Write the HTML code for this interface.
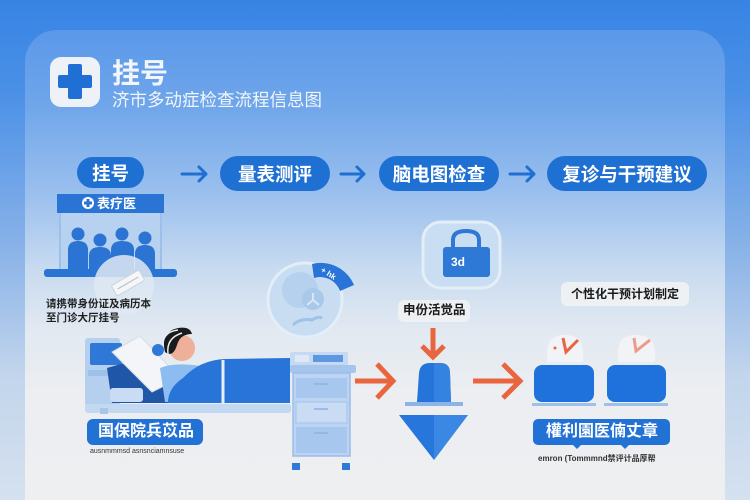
<!DOCTYPE html>
<html><head><meta charset="utf-8">
<style>
html,body{margin:0;padding:0;width:750px;height:500px;overflow:hidden;}
#w{position:relative;width:750px;height:500px;overflow:hidden;
background:linear-gradient(180deg,#3784e4 0%,#4a90e7 18%,#8ab3e8 50%,#c2d5ec 75%,#d5e1ef 100%);
font-family:"Liberation Sans","Noto Sans CJK SC",sans-serif;}
.card{position:absolute;left:25px;top:30px;width:700px;height:470px;border-radius:32px 32px 0 0;
background:linear-gradient(180deg,#5a98e9 0%,#6fa6ea 16%,#9bc0ee 35%,#c8dbf0 51%,#e2e9f1 64%,#eceef1 77%,#eeeff1 100%);}
.t{position:absolute;white-space:nowrap;line-height:1;}
.pill{position:absolute;background:#1f70d3;border-radius:18px;color:#fff;font-weight:bold;display:flex;align-items:center;justify-content:center;font-size:18.5px;}
</style></head><body><div id="w">
<div class="card"></div>
<svg width="750" height="500" style="position:absolute;left:0;top:0">
<!-- header icon -->
<rect x="50" y="57" width="50" height="50" rx="11" fill="#eef1f5"/>
<rect x="68" y="64" width="14" height="35" rx="2" fill="#1f6fd5"/>
<rect x="58" y="75" width="34" height="13" rx="2" fill="#1f6fd5"/>
<!-- row arrows -->
<g stroke="#1f6fd3" stroke-width="3" fill="none" stroke-linecap="round" stroke-linejoin="round">
<path d="M182 174 H206 M199 167 L206 174 L199 181"/>
<path d="M341 174 H364 M357 167 L364 174 L357 181"/>
<path d="M510 174 H534 M527 167 L534 174 L527 181"/>
</g>
<!-- hospital -->
<rect x="60" y="211" width="101" height="60" fill="#b7d1f0" stroke="#9dc0ea" stroke-width="2"/>
<rect x="57" y="194" width="107" height="19" fill="#2a74d6"/>
<circle cx="88" cy="203" r="6" fill="#fff"/>
<rect x="86.5" y="199" width="3" height="8" fill="#2a74d6"/>
<rect x="84" y="201.5" width="8" height="3" fill="#2a74d6"/>
<g fill="#2b74d3">
<circle cx="78" cy="234" r="6.5"/><path d="M68 270 V250 Q68 241 78 241 Q88 241 88 250 V270Z"/>
<circle cx="100" cy="240" r="6.5"/><path d="M89 270 V256 Q89 247 100 247 Q111 247 111 256 V270Z"/>
<circle cx="122" cy="234" r="6.5"/><path d="M111 270 V250 Q111 241 122 241 Q134 241 134 250 V270Z"/>
<circle cx="145" cy="238" r="6.5"/><path d="M135 270 V254 Q135 245 145 245 Q155 245 155 254 V270Z"/>
</g>
<rect x="44" y="269" width="133" height="8" rx="3" fill="#2a74d6"/>
<circle cx="124" cy="285" r="30" fill="#dfe9f3" opacity="0.85"/>
<g transform="rotate(-30 128 283)"><rect x="112" y="277" width="32" height="12" rx="2" fill="#f5f6f8" stroke="#c9d3de"/><line x1="116" y1="283" x2="140" y2="283" stroke="#b0b8c4" stroke-width="1"/></g>
<!-- bed illustration -->
<rect x="85" y="338" width="35" height="68" rx="3" fill="#b5cfee"/>
<rect x="90" y="343" width="32" height="22" rx="2" fill="#2f78d8"/>
<rect x="88" y="370" width="30" height="6" fill="#9ec1ea"/>
<polygon points="107,368 128,362 178,396 172,403 112,403" fill="#1f56a8"/>
<rect x="110" y="388" width="33" height="14" rx="3" fill="#c9dcf3"/>
<polygon points="112,352 140,336 180,378 152,392" fill="#f3f5f8" stroke="#d4dde8"/>
<path d="M160 368 Q175 362 200 366 L200 402 L165 402Z" fill="#8cbcf0"/>
<path d="M183 378 Q200 360 225 359 L290 358 L290 403 L168 403 Q168 388 183 378Z" fill="#2874d8"/>
<line x1="223" y1="360" x2="223" y2="403" stroke="#e8eef6" stroke-width="3"/>
<circle cx="182" cy="348" r="13" fill="#efb09a"/>
<path d="M165 352 Q160 332 178 328 Q190 326 192 334 Q180 334 177 345 Q173 358 165 352Z" fill="#1b1b1b"/>
<path d="M163 352 Q160 332 178 330" stroke="#e9eef5" stroke-width="1.5" fill="none"/>
<path d="M168 354 Q166 338 182 333" stroke="#e9eef5" stroke-width="1.5" fill="none"/>
<circle cx="158" cy="350" r="6" fill="#2f78d8"/>
<rect x="85" y="404" width="206" height="9" rx="3" fill="#c3d8f1"/>
<rect x="100" y="408" width="8" height="6" fill="#a9c6ea"/>
<!-- cabinet -->
<rect x="290" y="352" width="58" height="14" rx="2" fill="#c5daf2"/>
<rect x="295" y="355" width="14" height="7" fill="#dfe9f6"/><rect x="313" y="355" width="30" height="7" fill="#5d98e0"/>
<rect x="290" y="365" width="66" height="8" rx="2" fill="#a6c5ec"/>
<rect x="293" y="373" width="57" height="83" fill="#bcd4f1" stroke="#9bbde9" stroke-width="1.5"/>
<rect x="296" y="378" width="51" height="20" fill="#a7c7ee"/>
<rect x="296" y="402" width="51" height="21" fill="#c9dcf3" stroke="#a2c2ea"/>
<rect x="296" y="427" width="51" height="26" fill="#a7c7ee"/>
<g stroke="#8ab2e4" stroke-width="1.5"><line x1="314" y1="384" x2="328" y2="384"/><line x1="314" y1="409" x2="328" y2="409"/><line x1="314" y1="433" x2="328" y2="433"/></g>
<rect x="292" y="463" width="8" height="7" fill="#2f7ad9"/><rect x="342" y="463" width="8" height="7" fill="#2f7ad9"/>
<!-- bed label -->
<rect x="87" y="419" width="116" height="26" rx="6" fill="#2272d6"/>
<!-- center circle -->
<circle cx="305" cy="300" r="37" fill="#c8ddf1" stroke="#e3eef8" stroke-width="3"/>
<circle cx="300" cy="290" r="18" fill="#b5d1ed"/>
<circle cx="313" cy="299" r="11" fill="#a9c9ea"/>
<path d="M313 293 L313 300 L307 305 M313 300 L319 305" stroke="#d6e6f5" stroke-width="2" fill="none"/>
<path d="M293 325 Q300 318 312 320 Q318 316 322 318" stroke="#9fc2e8" stroke-width="3" fill="none"/>
<path d="M312 264 A36 36 0 0 1 354 285 L340 291 A21 21 0 0 0 314 278Z" fill="#2874d8"/>
<!-- lock box -->
<rect x="423" y="222" width="77" height="66" rx="18" fill="#c9def2" stroke="#e4eef8" stroke-width="3"/>
<path d="M453 248 V240 Q453 231 466 231 Q479 231 479 240 V248" stroke="#2e78d6" stroke-width="4" fill="none"/>
<rect x="443" y="247" width="47" height="30" rx="3" fill="#2e78d6"/>
<!-- center label bg -->
<rect x="398" y="300" width="72" height="22" rx="6" fill="#eef1f4"/>
<!-- orange arrows -->
<g stroke="#e8653f" stroke-width="5" fill="none" stroke-linecap="butt" stroke-linejoin="miter">
<path d="M433 328 V356 M422 346 L433 357 L444 346"/>
<path d="M355 381 H391 M377 364 L393 381 L377 398"/>
<path d="M473 381 H519 M503 364 L520 381 L503 398"/>
</g>
<!-- cone -->
<path d="M417 402 L419 373 Q420 363 430 363 L440 363 Q450 363 450 373 L451 402Z" fill="#2474da"/>
<path d="M434 363 L440 363 Q450 363 450 373 L451 402 L434 402Z" fill="#3583e0"/>
<rect x="405" y="402" width="58" height="4" fill="#8cb4e6"/>
<polygon points="399,415 468,415 434,460" fill="#2676dc"/>
<polygon points="434,415 468,415 434,460" fill="#3a88e4"/>
<!-- right side -->
<rect x="561" y="282" width="128" height="24" rx="6" fill="#eef1f4"/>
<path d="M547 362 V352 Q547 335 565 335 Q583 335 583 352 V362Z" fill="#f3f4f6" opacity="0.9"/>
<path d="M618 362 V352 Q618 335 636 335 Q655 335 655 352 V362Z" fill="#f3f4f6" opacity="0.9"/>
<path d="M563 338 L566 352 L578 340" stroke="#e8653f" stroke-width="3" fill="none"/>
<circle cx="555" cy="348" r="1.5" fill="#e8653f"/>
<path d="M634 338 L636 351 L650 340" stroke="#ee9a8a" stroke-width="3" fill="none"/>
<rect x="534" y="365" width="60" height="37" rx="8" fill="#1f72dc"/>
<rect x="607" y="365" width="59" height="37" rx="8" fill="#1f72dc"/>
<rect x="532" y="403" width="64" height="3" fill="#9dc1ea"/>
<rect x="604" y="403" width="64" height="3" fill="#9dc1ea"/>
<rect x="533" y="419" width="137" height="26" rx="5" fill="#2272d6"/>
<polygon points="573,445 581,445 577,449" fill="#2272d6"/>
<polygon points="621,445 629,445 625,449" fill="#2272d6"/>
</svg>

<div class="t" style="left:112px;top:60px;font-size:28px;font-weight:bold;color:#f2f6fb;">挂号</div>
<div class="t" style="left:112px;top:92px;font-size:17.5px;color:#f2f6fb;">济市多动症检查流程信息图</div>

<div class="pill" style="left:77px;top:157px;width:67px;height:31px;">挂号</div>
<div class="pill" style="left:220px;top:156px;width:110px;height:35px;">量表测评</div>
<div class="pill" style="left:379px;top:156px;width:120px;height:35px;">脑电图检查</div>
<div class="pill" style="left:547px;top:156px;width:160px;height:35px;">复诊与干预建议</div>

<div class="t" style="left:97px;top:197px;font-size:13px;font-weight:bold;color:#fff;">表疗医</div>
<div class="t" style="left:46px;top:297px;font-size:10.5px;font-weight:bold;color:#1e1e1e;line-height:14px;">请携带身份证及病历本<br>至门诊大厅挂号</div>

<div class="t" style="left:320px;top:270px;font-size:8px;font-weight:bold;color:#fff;transform:rotate(32deg);">+ hk</div>
<div class="t" style="left:451px;top:256px;font-size:12px;font-weight:bold;color:#fff;">3d</div>
<div class="t" style="left:403px;top:304px;font-size:12.5px;font-weight:bold;color:#1a1a1a;">申份活觉品</div>

<div class="t" style="left:98px;top:424px;font-size:16px;font-weight:bold;color:#fff;">国保院兵苡品</div>
<div class="t" style="left:90px;top:448px;font-size:7px;color:#333;">ausnmmmsd asnsnciamnsuse</div>

<div class="t" style="left:571px;top:288px;font-size:12px;font-weight:bold;color:#1a1a1a;">个性化干预计划制定</div>
<div class="t" style="left:546px;top:424px;font-size:16px;font-weight:bold;color:#fff;">權利園医㑲丈章</div>
<div class="t" style="left:538px;top:455px;font-size:8px;font-weight:bold;color:#333;">emron (Tommmnd禁评计品厚帮</div>
</div></body></html>
